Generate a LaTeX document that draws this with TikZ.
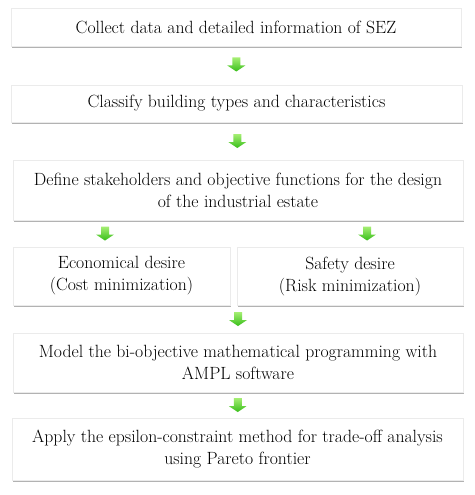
\documentclass[tikz,border=0pt]{standalone}
\usetikzlibrary{shadows,calc}
\definecolor{arrtop}{RGB}{165,238,115}
\definecolor{arrbot}{RGB}{55,190,25}
\begin{document}
\begin{tikzpicture}[x=1pt,y=-1pt,
  box/.style={draw=black!8, fill=white, line width=0.4pt, inner sep=0pt, align=center,
    font=\fontsize{17.7}{22}\selectfont, text=black,
    drop shadow={shadow xshift=1pt, shadow yshift=-1.8pt, fill=black, opacity=0.3}},
  garrow/.pic={\shade[top color=arrtop, bottom color=arrbot]
    (-4,-7) -- (4,-7) -- (4,1) -- (9,1) -- (0,7) -- (-9,1) -- (-4,1) -- cycle;}
  ]
\useasboundingbox[fill=white] (0,0) rectangle (474,495);
\node[box, minimum width=450pt, minimum height=38pt] (b1) at (236,27)
  {Collect data and detailed information of SEZ};
\node[box, minimum width=451pt, minimum height=37pt] (b2) at (236.5,103.5)
  {Classify building types and characteristics};
\node[box, minimum width=450pt, minimum height=60pt] (b3) at (238,190)
  {Define stakeholders and objective functions for the design\\of the industrial estate};
\node[box, minimum width=217pt, minimum height=58pt] (b4) at (121.5,276)
  {Economical desire\\(Cost minimization)};
\node[box, minimum width=226pt, minimum height=58pt] (b5) at (350,276)
  {Safety desire\\(Risk minimization)};
\node[box, minimum width=450pt, minimum height=59pt] (b6) at (238,362.5)
  {Model the bi-objective mathematical programming with\\AMPL software};
\node[box, minimum width=451pt, minimum height=62pt] (b7) at (237.5,449)
  {Apply the epsilon-constraint method for trade-off analysis\\using Pareto frontier};
\coordinate (xl) at (105,0);
\coordinate (xr) at (367,0);
\coordinate (m12) at ($(b1.south)!0.5!(b2.north)$);
\coordinate (m23) at ($(b2.south)!0.5!(b3.north)$);
\coordinate (m34) at ($(b3.south)!0.5!(b4.north)$);
\coordinate (m46) at ($(b4.south -| b6.north)!0.5!(b6.north)$);
\coordinate (m67) at ($(b6.south)!0.5!(b7.north)$);
\pic at ($(m12)+(0,-1)$) {garrow};
\pic at (m23) {garrow};
\pic at (m34 -| xl) {garrow};
\pic at (m34 -| xr) {garrow};
\pic at (m46) {garrow};
\pic at (m67) {garrow};
\end{tikzpicture}
\end{document}
